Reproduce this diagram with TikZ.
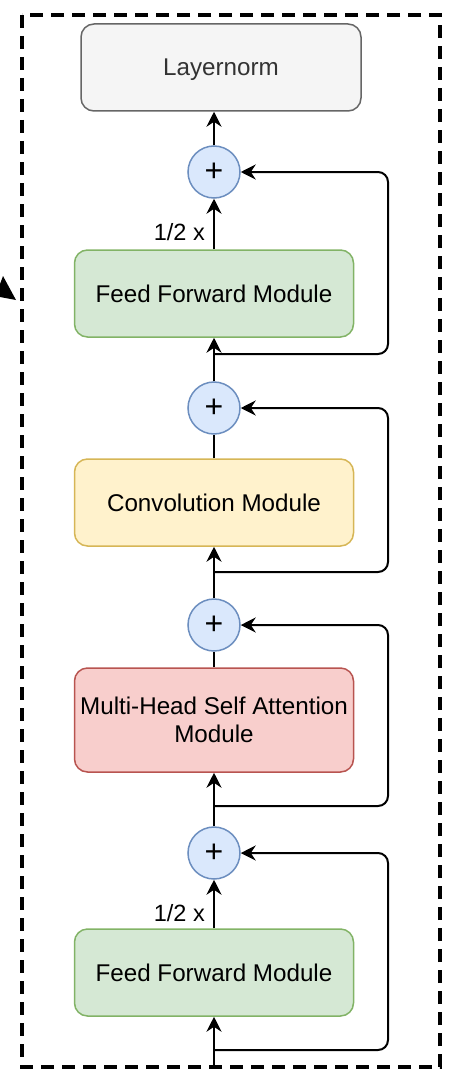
\documentclass[tikz,border=0pt]{standalone}
\usepackage{fontspec}
\setmainfont{Liberation Sans}
\usetikzlibrary{arrows.meta,calc}
\definecolor{lnfill}{HTML}{F5F5F5}
\definecolor{lndraw}{HTML}{666666}
\definecolor{lntext}{HTML}{333333}
\definecolor{gfill}{HTML}{D5E8D4}
\definecolor{gdraw}{HTML}{82B366}
\definecolor{yfill}{HTML}{FFF2CC}
\definecolor{ydraw}{HTML}{D6B656}
\definecolor{rfill}{HTML}{F8CECC}
\definecolor{rdraw}{HTML}{B85450}
\definecolor{bfill}{HTML}{DAE8FC}
\definecolor{bdraw}{HTML}{6C8EBF}
\tikzset{
  modbox/.style={rectangle, rounded corners=13pt, line width=1.5pt, minimum width=279pt, inner sep=0pt, align=center, font=\fontsize{24.2}{28}\selectfont},
  sumnode/.style={circle, draw=bdraw, fill=bfill, line width=1.5pt, minimum size=52pt, inner sep=0pt, font=\fontsize{32}{34}\selectfont},
  arr/.style={line width=2pt, -{Stealth[length=15pt, width=15pt, inset=5pt]}},
  plain/.style={line width=2pt},
  skip/.style={line width=2pt, rounded corners=10pt, -{Stealth[length=15pt, width=15pt, inset=5pt]}},
  lbl/.style={font=\fontsize{23.5}{25}\selectfont, anchor=east, inner sep=0pt}
}
\begin{document}
\begin{tikzpicture}[x=1pt, y=-1pt]
\useasboundingbox (0,0) rectangle (474,1089);
% outer dashed frame
\draw[line width=3.3pt, dash pattern=on 13pt off 8pt] (22,15) rectangle (440,1067);
% partial arrowhead at left edge
\fill (0,284) -- (3,276) -- (16,300) -- (0,297) -- cycle;
% nodes
\node[modbox, draw=lndraw, fill=lnfill, text=lntext, minimum width=280pt, minimum height=87pt, text depth=-2pt] (ln) at (221,67.5) {Layernorm};
\node[sumnode] (p1) at (214,172) {+};
\node[modbox, draw=gdraw, fill=gfill, minimum height=87pt] (ff1) at (214,293.5) {Feed Forward Module};
\node[sumnode] (p2) at (214,408) {+};
\node[modbox, draw=ydraw, fill=yfill, minimum height=87pt] (conv) at (214,502.5) {Convolution Module};
\node[sumnode] (p3) at (214,625) {+};
\node[modbox, draw=rdraw, fill=rfill, minimum height=104pt] (mhsa) at (214,720) {Multi-Head Self Attention\\Module};
\node[sumnode] (p4) at (214,853) {+};
\node[modbox, draw=gdraw, fill=gfill, minimum height=87pt] (ff2) at (214,972.5) {Feed Forward Module};
\node[lbl] (h1) at (205,232) {1/2 x};
\node[lbl] (h2) at (205,913) {1/2 x};
% coordinates
\coordinate (in) at (214,1067);
\coordinate (rx) at (388,0);
\coordinate (s1) at (214,354);
\coordinate (s2) at (214,572);
\coordinate (s3) at (214,806);
\coordinate (s4) at (214,1050);
% main path
\draw[arr] (in) -- (ff2.south);
\draw[arr] (ff2.north) -- (p4.south);
\draw[arr] (p4.north) -- (mhsa.south);
\draw[plain] (mhsa.north) -- (p3.south);
\draw[arr] (p3.north) -- (conv.south);
\draw[plain] (conv.north) -- (p2.south);
\draw[arr] (p2.north) -- (ff1.south);
\draw[arr] (ff1.north) -- (p1.south);
\draw[arr] (p1.north) -- (p1.north |- ln.south);
% residual connections
\draw[skip] (s4) -- (s4 -| rx) -- (rx |- p4) -- (p4.east);
\draw[skip] (s3) -- (s3 -| rx) -- (rx |- p3) -- (p3.east);
\draw[skip] (s2) -- (s2 -| rx) -- (rx |- p2) -- (p2.east);
\draw[skip] (s1) -- (s1 -| rx) -- (rx |- p1) -- (p1.east);
\end{tikzpicture}
\end{document}
